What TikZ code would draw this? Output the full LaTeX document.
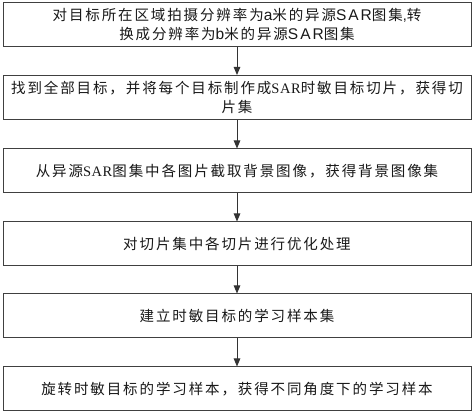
\documentclass[tikz,border=0pt]{standalone}
\usepackage{fontspec}
\newfontfamily\cjk[LetterSpace=13]{Noto Sans CJK SC}
\newfontfamily\lsans[LetterSpace=13]{Liberation Sans}
\newfontfamily\lserif[LetterSpace=4]{Liberation Serif}
\usetikzlibrary{arrows.meta}
\begin{document}
\begin{tikzpicture}[x=1pt,y=1pt,
  stepbox/.style={draw=black!75, line width=1pt, fill=white,
    minimum width=468pt, minimum height=44pt, inner sep=0pt,
    align=center, text=black!90,
    font=\cjk\fontsize{14.5}{19}\selectfont},
  flow/.style={draw=black!80, line width=1pt,
    -{Triangle[length=8pt,width=6.5pt]}}]
\useasboundingbox (0,0) rectangle (474,417);
\node[stepbox] (b1) at (237,392.5) {对目标所在区域拍摄分辨率为{\lsans\fontsize{15.5}{19}\selectfont a}米的异源{\lsans\fontsize{15.5}{19}\selectfont SAR}图集{\lsans ,}转\\换成分辨率为{\lsans\fontsize{15.5}{19}\selectfont b}米的异源{\lsans\fontsize{15.5}{19}\selectfont SAR}图集};
\node[stepbox] (b2) at (237,319.5) {找到全部目标，并将每个目标制作成{\lserif SAR}时敏目标切片，获得切\\片集};
\node[stepbox] (b3) at (237,246) {从异源{\lserif SAR}图集中各图片截取背景图像，获得背景图像集};
\node[stepbox] (b4) at (237,173) {对切片集中各切片进行优化处理};
\node[stepbox] (b5) at (237,101) {建立时敏目标的学习样本集};
\node[stepbox] (b6) at (237,28) {旋转时敏目标的学习样本，获得不同角度下的学习样本};
\draw[flow] (b1) -- (b2);
\draw[flow] (b2) -- (b3);
\draw[flow] (b3) -- (b4);
\draw[flow] (b4) -- (b5);
\draw[flow] (b5) -- (b6);
\end{tikzpicture}
\end{document}
